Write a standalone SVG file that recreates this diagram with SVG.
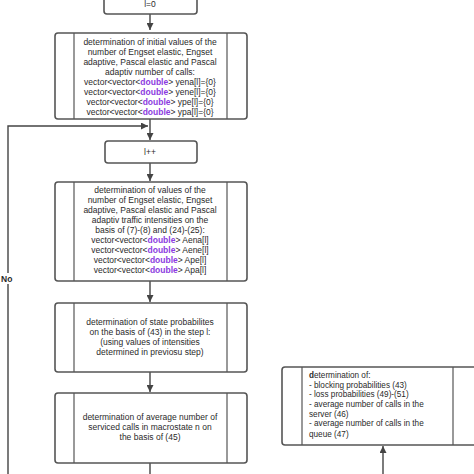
<svg xmlns="http://www.w3.org/2000/svg" width="474" height="474" viewBox="0 0 474 474">
<defs>
<marker id="ah" viewBox="0 0 10 10" refX="10" refY="5" markerWidth="7" markerHeight="7" markerUnits="userSpaceOnUse" orient="auto">
<path d="M0,0 L10,5 L0,10 z" fill="#444"/>
</marker>
<style>
.box{fill:#fff;stroke:#555;stroke-width:1.6}
.in{stroke:#555;stroke-width:1.2}
.t{font-family:"Liberation Sans",Arial,sans-serif;font-size:8.5px;fill:#2a2a2a;text-anchor:middle}
.tl{font-family:"Liberation Sans",Arial,sans-serif;font-size:8.2px;fill:#2a2a2a}
.d{fill:#8B3BE0;font-weight:bold}
.c{fill:none;stroke:#444;stroke-width:1.4}
</style>
</defs>
<rect width="474" height="474" fill="#fff"/>
<g id="connectors">
<line class="c" x1="150" y1="14" x2="150" y2="30" marker-end="url(#ah)"/>
<line class="c" x1="150" y1="119" x2="150" y2="140" marker-end="url(#ah)"/>
<polyline class="c" points="8,474 8,126 148,126" marker-end="url(#ah)"/>
<line class="c" x1="150" y1="163" x2="150" y2="181" marker-end="url(#ah)"/>
<line class="c" x1="150" y1="281" x2="150" y2="302" marker-end="url(#ah)"/>
<line class="c" x1="150" y1="372" x2="150" y2="392" marker-end="url(#ah)"/>
<line class="c" x1="150" y1="463" x2="150" y2="474"/>
<line class="c" x1="383" y1="474" x2="383" y2="446" marker-end="url(#ah)"/>
</g>
<g id="label-no">
<rect x="0" y="273" width="17" height="11" fill="#fff"/>
<text x="1" y="282" style="font-family:'Liberation Sans',Arial,sans-serif;font-size:8.5px;font-weight:bold;fill:#2a2a2a">No</text>
</g>
<g id="n-l0">
<rect class="box" x="104" y="-10" width="93" height="24" rx="3"/>
<text class="t" x="150" y="7">l=0</text>
</g>
<g id="n-init">
<rect class="box" x="55" y="33" width="192" height="86" rx="3"/>
<line class="in" x1="74" y1="33" x2="74" y2="119"/>
<line class="in" x1="227" y1="33" x2="227" y2="119"/>
<text class="t" x="150" y="44.5">determination of initial values of the</text>
<text class="t" x="150" y="54.5">number of  Engset elastic, Engset</text>
<text class="t" x="150" y="64.5">adaptive, Pascal elastic and Pascal</text>
<text class="t" x="150" y="74.5">adaptiv number of calls:</text>
<text class="t" x="150" y="85">vector&lt;vector&lt;<tspan class="d">double</tspan>&gt; yena[l]={0}</text>
<text class="t" x="150" y="95">vector&lt;vector&lt;<tspan class="d">double</tspan>&gt; yene[l]={0}</text>
<text class="t" x="150" y="105">vector&lt;vector&lt;<tspan class="d">double</tspan>&gt; ype[l]={0}</text>
<text class="t" x="150" y="114.5">vector&lt;vector&lt;<tspan class="d">double</tspan>&gt; ypa[l]={0}</text>
</g>
<g id="n-inc">
<rect class="box" x="105" y="141" width="92" height="22" rx="3"/>
<text class="t" x="150" y="155">l++</text>
</g>
<g id="n-intens">
<rect class="box" x="55" y="182" width="192" height="99" rx="3"/>
<line class="in" x1="74" y1="182" x2="74" y2="281"/>
<line class="in" x1="227" y1="182" x2="227" y2="281"/>
<text class="t" x="150" y="193">determination of values of the</text>
<text class="t" x="150" y="203">number of  Engset elastic, Engset</text>
<text class="t" x="150" y="213">adaptive, Pascal elastic and Pascal</text>
<text class="t" x="150" y="223">adaptiv traffic intensities on the</text>
<text class="t" x="150" y="233">basis of (7)-(8) and (24)-(25):</text>
<text class="t" x="150" y="243">vector&lt;vector&lt;<tspan class="d">double</tspan>&gt; Aena[l]</text>
<text class="t" x="150" y="253">vector&lt;vector&lt;<tspan class="d">double</tspan>&gt; Aene[l]</text>
<text class="t" x="150" y="263">vector&lt;vector&lt;<tspan class="d">double</tspan>&gt; Ape[l]</text>
<text class="t" x="150" y="273">vector&lt;vector&lt;<tspan class="d">double</tspan>&gt; Apa[l]</text>
</g>
<g id="n-state">
<rect class="box" x="55" y="303" width="192" height="69" rx="3"/>
<line class="in" x1="74" y1="303" x2="74" y2="372"/>
<line class="in" x1="227" y1="303" x2="227" y2="372"/>
<text class="t" x="150" y="324.5">determination of  state probabilites</text>
<text class="t" x="150" y="334.5">on the basis of (43) in the step l:</text>
<text class="t" x="150" y="344.5">(using  values of intensities</text>
<text class="t" x="150" y="354.5">determined in previosu step)</text>
</g>
<g id="n-avg">
<rect class="box" x="55" y="393" width="192" height="70" rx="3"/>
<line class="in" x1="74" y1="393" x2="74" y2="463"/>
<line class="in" x1="227" y1="393" x2="227" y2="463"/>
<text class="t" x="150" y="419.5">determination of  average number of</text>
<text class="t" x="150" y="429.5">serviced calls in macrostate n  on</text>
<text class="t" x="150" y="439.5">the basis of (45)</text>
</g>
<g id="n-result">
<rect class="box" x="282" y="367" width="195" height="78" rx="3"/>
<line class="in" x1="302" y1="367" x2="302" y2="445"/>
<line class="in" x1="453" y1="367" x2="453" y2="445"/>
<text class="tl" x="309" y="377.5"><tspan font-weight="bold">d</tspan>etermination of:</text>
<text class="tl" x="309" y="387.5">- blocking probabilities (43)</text>
<text class="tl" x="309" y="397">- loss probabilities (49)-(51)</text>
<text class="tl" x="309" y="406.5">- average number of calls in the</text>
<text class="tl" x="309" y="416.5">server (46)</text>
<text class="tl" x="309" y="426">- average number of calls in the</text>
<text class="tl" x="309" y="436.5">queue (47)</text>
</g>
</svg>
